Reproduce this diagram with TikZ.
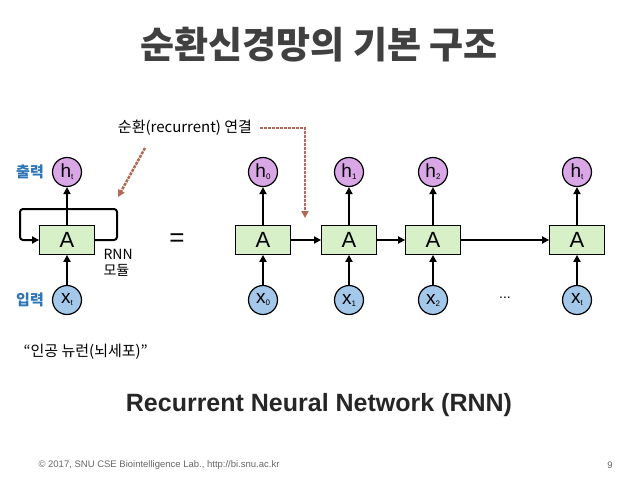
\documentclass[tikz,border=0pt]{standalone}
\usepackage{fontspec}
\setmainfont{Liberation Sans}
\newfontfamily\kr{Noto Sans CJK KR}
\usetikzlibrary{arrows.meta,shadows}
\definecolor{hcol}{HTML}{D9A6E6}
\definecolor{xcol}{HTML}{A4C8EA}
\definecolor{boxc}{HTML}{D8F0C8}
\definecolor{lbl}{HTML}{2E75B6}
\definecolor{brn}{HTML}{B06A55}
\begin{document}
\begin{tikzpicture}[x=1pt,y=-1pt,
 hc/.style={circle,draw,line width=1.2pt,fill=hcol,minimum size=29pt,inner sep=0pt,font=\fontsize{19}{19}\selectfont},
 xc/.style={hc,fill=xcol},
 bx/.style={draw,fill=boxc,line width=0.8pt,minimum width=55pt,minimum height=29pt,font=\fontsize{22}{22}\selectfont},
 ar/.style={-{Triangle[length=7pt,width=7pt]},line width=2pt},
 br/.style={-{Triangle[length=7pt,width=7pt]},draw=brn,line width=2.5pt,dash pattern=on 3pt off 1pt}]
\useasboundingbox (0,0) rectangle (638,479);
\newcommand{\sbs}[2]{#1\raisebox{-0.2ex}{\fontsize{8}{8}\selectfont #2}}
\node[font=\kr\bfseries\fontsize{37}{37}\selectfont,text=black!75] (title) at (319,45) {순환신경망의 기본 구조};
% left
\node[hc] (ht) at (67,172) {\sbs{h}{t}};
\node[bx] (A) at (67,240) {A};
\node[xc] (xt) at (67,300) {\sbs{x}{t}};
\draw[ar] (A) -- (ht);
\draw[ar] (xt) -- (A);
\draw[ar,rounded corners=3pt] (A.east) -- (117,240) -- (117,209) -- (20,209) -- (20,240) -- (A.west);
\node[font=\kr\bfseries\fontsize{15}{15}\selectfont,text=lbl] (out) at (30,172) {출력};
\node[font=\kr\bfseries\fontsize{15}{15}\selectfont,text=lbl] (in) at (30,300) {입력};
\node[font=\kr\fontsize{14}{16}\selectfont,align=left,anchor=north west] (rnn) at (100,246) {RNN\\모듈};
\node[font=\fontsize{26}{26}\selectfont] (eq) at (177,240) {=};
% right
\foreach \i/\x/\s in {0/263/0,1/349/1,2/433/2,3/577/t}{
 \node[hc] (h\i) at (\x,172) {\sbs{h}{\s}};
 \node[bx] (A\i) at (\x,240) {A};
 \node[xc] (x\i) at (\x,300) {\sbs{x}{\s}};
 \draw[ar] (A\i) -- (h\i);
 \draw[ar] (x\i) -- (A\i);
}
\draw[ar] (A0) -- (A1);
\draw[ar] (A1) -- (A2);
\draw[ar] (A2) -- (A3);
\node[font=\fontsize{14}{14}\selectfont] (dots) at (505,298) {...};
% recurrent label
\node[font=\kr\fontsize{15}{15}\selectfont] (rec) at (185,128) {순환(recurrent) 연결};
\coordinate (r1) at (145,148);
\coordinate (r2) at (118,197);
\draw[br] (r1) -- (r2);
\coordinate (s1) at (260,128);
\coordinate (s2) at (305,128);
\coordinate (s3) at (305,218);
\draw[br] (s1) -- (s2) -- (s3);
\node[font=\kr\fontsize{15}{15}\selectfont,anchor=west] (neuron) at (20,352) {“인공 뉴런(뇌세포)”};
\node[font=\bfseries\fontsize{25}{25}\selectfont,text=black!85] (rnnt) at (319,405) {Recurrent Neural Network (RNN)};
\node[font=\fontsize{9.5}{9.5}\selectfont,text=black!60,anchor=west] (foot) at (35,465) {© 2017, SNU CSE Biointelligence Lab., http://bi.snu.ac.kr};
\node[font=\fontsize{9.5}{9.5}\selectfont,text=black!60] (pg) at (610,465) {9};
\end{tikzpicture}
\end{document}
